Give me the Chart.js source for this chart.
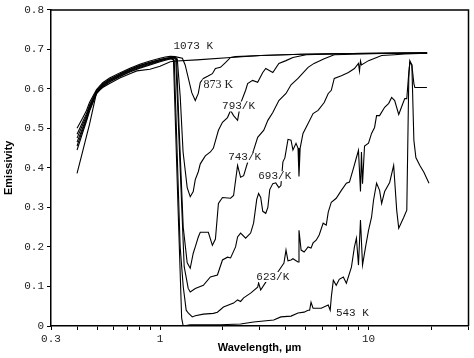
<!DOCTYPE html>
<html>
<head>
<meta charset="utf-8">
<script src="https://cdn.jsdelivr.net/npm/chart.js@4.4.1/dist/chart.umd.min.js"></script>
<style>
  html, body { margin: 0; padding: 0; background: #fff; }
  canvas { display: block; }
</style>
</head>
<body>
<canvas id="c" width="474" height="358"></canvas>
<script>
// ---- data (wavelength in µm, emissivity) ----
const startWl = [0.40, 0.425, 0.444, 0.459, 0.496, 0.531, 0.573, 0.641, 0.717, 0.80, 0.895, 1.0, 1.06, 1.12];

const wl1073 = [0.40, 0.425, 0.444, 0.459, 0.496, 0.531, 0.573, 0.641, 0.717, 0.774, 0.895, 1.0, 1.12, 1.2, 1.5, 2.18, 3.04, 4.75, 8.28, 13.0, 19.1];
const em1073 = [0.386, 0.44, 0.48, 0.51, 0.59, 0.603, 0.613, 0.627, 0.638, 0.645, 0.649, 0.657, 0.668, 0.670, 0.673, 0.679, 0.684, 0.687, 0.689, 0.690, 0.691];

const start873 = [0.50, 0.525, 0.545, 0.565, 0.598, 0.615, 0.627, 0.640, 0.652, 0.662, 0.670, 0.677, 0.680, 0.682];
const wl873 = [1.18, 1.28, 1.32, 1.365, 1.42, 1.476, 1.526, 1.56, 1.614, 1.70, 1.783, 1.844, 1.949, 2.06, 2.18, 2.30, 3.04, 4.75, 8.28, 19.1];
const em873 = [0.681, 0.677, 0.66, 0.628, 0.59, 0.570, 0.588, 0.616, 0.626, 0.632, 0.638, 0.651, 0.654, 0.666, 0.679, 0.681, 0.684, 0.687, 0.689, 0.690];

const start793 = [0.485, 0.515, 0.537, 0.558, 0.595, 0.612, 0.624, 0.637, 0.649, 0.659, 0.667, 0.674, 0.677, 0.679];
const wl793 = [1.19, 1.21, 1.25, 1.29, 1.35, 1.396, 1.443, 1.476, 1.526, 1.56, 1.649, 1.744, 1.803, 1.906, 1.993, 2.107, 2.18, 2.253, 2.355, 2.435, 2.574, 2.632, 2.78, 2.94, 3.11, 3.215, 3.475, 3.715, 4.02, 4.34, 5.02, 8.28, 19.1];
const em793 = [0.679, 0.675, 0.58, 0.44, 0.35, 0.327, 0.34, 0.37, 0.39, 0.41, 0.43, 0.44, 0.45, 0.495, 0.515, 0.527, 0.545, 0.532, 0.52, 0.563, 0.596, 0.613, 0.621, 0.616, 0.641, 0.651, 0.641, 0.664, 0.671, 0.679, 0.686, 0.689, 0.690];

const start743 = [0.475, 0.508, 0.532, 0.554, 0.593, 0.611, 0.623, 0.636, 0.648, 0.658, 0.666, 0.673, 0.676, 0.678];
const wl743 = [1.18, 1.20, 1.235, 1.292, 1.35, 1.396, 1.443, 1.476, 1.526, 1.56, 1.705, 1.783, 1.844, 1.906, 1.993, 2.18, 2.253, 2.355, 2.435, 2.518, 2.632, 2.72, 2.81, 2.94, 3.146, 3.29, 3.475, 3.715, 4.02, 4.25, 4.59, 5.13, 5.48, 6.13, 6.85, 11.56, 19.1];
const em743 = [0.678, 0.675, 0.50, 0.25, 0.16, 0.146, 0.184, 0.20, 0.225, 0.237, 0.237, 0.204, 0.22, 0.31, 0.325, 0.323, 0.33, 0.406, 0.376, 0.38, 0.414, 0.424, 0.444, 0.477, 0.495, 0.52, 0.54, 0.57, 0.588, 0.61, 0.626, 0.654, 0.664, 0.676, 0.686, 0.689, 0.690];

const start693 = [0.465, 0.50, 0.527, 0.55, 0.591, 0.609, 0.621, 0.634, 0.646, 0.656, 0.664, 0.671, 0.675, 0.677];
const wl693 = [1.17, 1.19, 1.249, 1.306, 1.365, 1.396, 1.476, 1.614, 1.744, 1.885, 1.993, 2.107, 2.18, 2.303, 2.355, 2.435, 2.574, 2.72, 2.81, 2.91, 2.97, 3.04, 3.11, 3.215, 3.29, 3.36, 3.475, 3.59, 3.715, 3.80, 3.885, 3.97, 4.11, 4.25, 4.34, 4.49, 4.59, 4.64, 4.70, 4.85, 5.13, 5.42, 5.73, 6.13, 6.41, 6.63, 6.85, 7.41, 8.01, 8.56, 8.95, 9.05, 9.15, 9.25, 10.0, 11.56, 13.35, 14.92, 19.1];
const em693 = [0.677, 0.674, 0.40, 0.15, 0.095, 0.086, 0.095, 0.103, 0.124, 0.129, 0.167, 0.174, 0.172, 0.20, 0.225, 0.235, 0.222, 0.235, 0.26, 0.32, 0.335, 0.325, 0.29, 0.285, 0.30, 0.345, 0.36, 0.362, 0.35, 0.355, 0.415, 0.425, 0.472, 0.47, 0.445, 0.462, 0.45, 0.378, 0.45, 0.487, 0.512, 0.537, 0.545, 0.565, 0.588, 0.596, 0.626, 0.633, 0.641, 0.651, 0.664, 0.645, 0.67, 0.66, 0.671, 0.684, 0.686, 0.688, 0.690];

const start623 = [0.455, 0.495, 0.522, 0.547, 0.589, 0.607, 0.619, 0.632, 0.644, 0.654, 0.662, 0.670, 0.674, 0.676];
const wl623 = [1.15, 1.17, 1.249, 1.292, 1.335, 1.365, 1.428, 1.476, 1.614, 1.803, 1.885, 2.015, 2.253, 2.355, 2.435, 2.518, 2.72, 2.94, 2.97, 3.04, 3.215, 3.40, 3.67, 3.93, 4.02, 4.11, 4.25, 4.34, 4.59, 4.64, 4.75, 4.91, 5.13, 5.30, 5.42, 5.61, 5.80, 6.06, 6.27, 6.41, 6.63, 7.0, 7.41, 7.83, 8.10, 8.47, 8.75, 8.95, 9.15, 9.25, 9.36, 9.57, 10.0, 10.34, 10.69, 10.93, 11.3, 11.95, 12.5, 12.91, 13.35, 13.96, 14.43, 14.92, 15.26, 15.6, 15.78, 16.14, 16.5, 16.68, 19.06];
const em623 = [0.676, 0.672, 0.20, 0.10, 0.04, 0.033, 0.023, 0.026, 0.03, 0.032, 0.035, 0.048, 0.058, 0.066, 0.062, 0.071, 0.083, 0.098, 0.109, 0.091, 0.111, 0.124, 0.136, 0.159, 0.192, 0.165, 0.167, 0.17, 0.162, 0.242, 0.192, 0.187, 0.20, 0.197, 0.21, 0.217, 0.23, 0.26, 0.255, 0.288, 0.313, 0.323, 0.343, 0.361, 0.364, 0.399, 0.426, 0.444, 0.34, 0.44, 0.36, 0.455, 0.462, 0.487, 0.502, 0.532, 0.532, 0.553, 0.563, 0.578, 0.57, 0.535, 0.555, 0.575, 0.575, 0.64, 0.666, 0.66, 0.613, 0.603, 0.603];

const start543 = [0.445, 0.488, 0.518, 0.543, 0.587, 0.605, 0.617, 0.630, 0.642, 0.652, 0.660, 0.668, 0.672, 0.675];
const wl543 = [1.14, 1.16, 1.22, 1.27, 1.292, 1.396, 1.95, 2.435, 2.81, 3.51, 3.80, 4.25, 4.59, 4.91, 5.13, 5.22, 5.30, 5.42, 5.93, 6.41, 6.55, 6.63, 6.78, 7.0, 7.24, 7.57, 7.83, 8.28, 8.56, 8.75, 8.95, 9.15, 9.36, 9.68, 10.0, 10.34, 10.57, 10.93, 11.3, 11.56, 11.95, 12.63, 13.2, 13.65, 13.96, 14.76, 15.26, 15.6, 15.78, 16.14, 16.5, 16.87, 17.63, 18.43, 19.5];
const em543 = [0.675, 0.672, 0.30, 0.02, 0.0, 0.003, 0.003, 0.005, 0.01, 0.015, 0.023, 0.025, 0.033, 0.035, 0.04, 0.04, 0.06, 0.045, 0.045, 0.053, 0.04, 0.073, 0.116, 0.103, 0.118, 0.124, 0.108, 0.149, 0.20, 0.222, 0.154, 0.268, 0.154, 0.20, 0.242, 0.275, 0.318, 0.361, 0.343, 0.31, 0.34, 0.363, 0.406, 0.293, 0.247, 0.275, 0.293, 0.628, 0.671, 0.66, 0.47, 0.426, 0.406, 0.389, 0.361];

const xTickValues = [0.3, 0.4, 0.5, 0.6, 0.7, 0.8, 0.9, 1, 2, 3, 4, 5, 6, 7, 8, 9, 10, 20, 30];
const xTickLabels = ['0.3', '1', '10'];
const yTickValues = [0, 0.1, 0.2, 0.3, 0.4, 0.5, 0.6, 0.7, 0.8];

const curveLabels = ['1073 K', '873 K', '793/K', '743/K', '693/K', '623/K', '543 K'];
const labelWl = [1.443, 1.906, 2.38, 2.546, 3.55, 3.475, 8.37];
const labelEm = [0.707, 0.611, 0.555, 0.426, 0.379, 0.124, 0.033];
const labelFonts = ['mono', 'serif', 'mono', 'mono', 'mono', 'mono', 'mono'];

// ---- build datasets ----
function pts(wl, em) { return wl.map((w, i) => ({ x: w, y: em[i] })); }
const series = [
  pts(wl1073, em1073),
  pts(startWl.concat(wl873), start873.concat(em873)),
  pts(startWl.concat(wl793), start793.concat(em793)),
  pts(startWl.concat(wl743), start743.concat(em743)),
  pts(startWl.concat(wl693), start693.concat(em693)),
  pts(startWl.concat(wl623), start623.concat(em623)),
  pts(startWl.concat(wl543), start543.concat(em543))
];
const datasets = series.map(d => ({
  data: d, borderColor: '#000', borderWidth: 1.1, pointRadius: 0, tension: 0, fill: false
}));

const framePlugin = {
  id: 'frame',
  afterDraw(chart) {
    const a = chart.chartArea, ctx = chart.ctx;
    ctx.save();
    ctx.strokeStyle = '#000';
    ctx.lineWidth = 1.5;
    ctx.beginPath();
    ctx.moveTo(a.left, a.top + 0.5);
    ctx.lineTo(a.right + 0.5, a.top + 0.5);
    ctx.lineTo(a.right + 0.5, a.bottom);
    ctx.stroke();
    ctx.restore();
  }
};

const labelPlugin = {
  id: 'curveLabels',
  afterDatasetsDraw(chart) {
    const ctx = chart.ctx, xs = chart.scales.x, ys = chart.scales.y;
    ctx.save();
    ctx.textAlign = 'center';
    ctx.textBaseline = 'middle';
    curveLabels.forEach((t, i) => {
      ctx.font = labelFonts[i] === 'serif' ? '12px "Liberation Serif"' : '11px "Liberation Mono"';
      const px = xs.getPixelForValue(labelWl[i]);
      const py = ys.getPixelForValue(labelEm[i]);
      const w = ctx.measureText(t).width;
      ctx.fillStyle = '#fff';
      ctx.fillRect(px - w / 2 - 1, py - 5, w + 2, 10);
      ctx.fillStyle = '#222';
      ctx.fillText(t, px, py);
    });
    ctx.restore();
  }
};

new Chart(document.getElementById('c'), {
  type: 'line',
  data: { datasets },
  options: {
    responsive: false,
    animation: false,
    devicePixelRatio: 1,
    layout: { padding: { left: 0, top: 9, right: 6, bottom: 0 } },
    plugins: { legend: { display: false }, tooltip: { enabled: false } },
    scales: {
      x: {
        type: 'logarithmic',
        min: 0.3, max: 30,
        afterBuildTicks(s) { s.ticks = xTickValues.map(v => ({ value: v })); },
        afterFit(s) { s.height = 32; },
        ticks: {
          autoSkip: false, maxRotation: 0, padding: 2,
          color: '#222',
          font: { family: '"Liberation Mono"', size: 11 },
          callback: (v) => { const s = String(v); return xTickLabels.includes(s) ? s : ''; }
        },
        grid: { drawOnChartArea: false, drawTicks: true, tickLength: 4, color: '#000' },
        border: { display: true, color: '#000', width: 1.5 },
        title: {
          display: true, text: 'Wavelength, µm', color: '#000',
          font: { family: '"Liberation Sans"', size: 11, weight: 'bold' },
          padding: { top: 0, bottom: 3 }
        }
      },
      y: {
        type: 'linear',
        min: 0, max: 0.8,
        afterBuildTicks(s) { s.ticks = yTickValues.map(v => ({ value: v })); },
        afterFit(s) { s.width = 51; },
        ticks: {
          color: '#222', padding: 3,
          font: { family: '"Liberation Mono"', size: 11 },
          callback: (v) => v === 0 ? '0' : Number(v).toFixed(1)
        },
        grid: { drawOnChartArea: false, drawTicks: true, tickLength: 4, color: '#000' },
        border: { display: true, color: '#000', width: 1.5 },
        title: {
          display: true, text: 'Emissivity', color: '#000',
          font: { family: '"Liberation Sans"', size: 11, weight: 'bold' },
          padding: { top: 2, bottom: 0 }
        }
      }
    }
  },
  plugins: [framePlugin, labelPlugin]
});
</script>
</body>
</html>
